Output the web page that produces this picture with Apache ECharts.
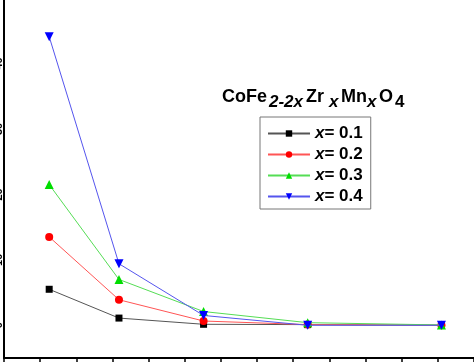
<!DOCTYPE html>
<html><head><meta charset="utf-8">
<script src="https://cdn.jsdelivr.net/npm/echarts@6/dist/echarts.min.js"></script>
<style>html,body{margin:0;padding:0;background:#fff;overflow:hidden}#c{width:474px;height:362px}</style>
</head><body><div id="c"></div>
<script>
// ---- data ----
const xValues = [1.25, 3.18, 5.52, 8.4, 12.1];
const seriesNames = ['0.1', '0.2', '0.3', '0.4'];
const valsX01 = [5.5, 1.1, 0.15, 0.1, 0.0];
const valsX02 = [13.5, 3.9, 0.65, 0.1, 0.0];
const valsX03 = [21.5, 7.0, 2.1, 0.4, 0.05];
const valsX04 = [44.1, 9.4, 1.5, 0.0, 0.0];
const yTickValues = [0, 10, 20, 30, 40];
const yTickLabels = ['0', '10', '20', '30', '40'];

const seriesVals = [valsX01, valsX02, valsX03, valsX04];
const markerColors = ['#000000', '#ff0000', '#00dd00', '#0000ff'];
const lineColors = ['#555555', '#ff5555', '#55dd55', '#5555ee'];
const symbols = ['rect', 'circle', 'triangle', 'triangle'];
const symRot = [0, 0, 0, 180];
const symSizes = [7, 8, 9, 9];

const FONT = '"Liberation Sans", Arial, sans-serif';

const chart = echarts.init(document.getElementById('c'), null, {renderer: 'canvas'});

// title pieces: text, font size, italic, baseline drop, left x
const titlePieces = [
  ['CoFe', 18, false, 0, 222],
  ['2-2x', 17, true, 5, 269],
  ['Zr', 18, false, 0, 306],
  ['x', 17, true, 5, 329],
  ['Mn', 18, false, 0, 341],
  ['x', 17, true, 5, 367],
  ['O', 18, false, 0, 379],
  ['4', 17, false, 5, 395]
];
const graphics = [];
const baseY = 106;
titlePieces.forEach(p => {
  const font = (p[2] ? 'italic ' : '') + 'bold ' + p[1] + 'px ' + FONT;
  graphics.push({
    type: 'text', x: p[4], y: baseY + p[3], z: 100,
    style: {text: p[0], font: font, fill: '#000', verticalAlign: 'bottom', align: 'left'}
  });
});

const series = seriesVals.map((vals, i) => ({
  name: seriesNames[i],
  type: 'line',
  data: vals.map((v, k) => [xValues[k], v]),
  symbol: symbols[i],
  symbolRotate: symRot[i],
  symbolSize: symSizes[i],
  showAllSymbol: true,
  itemStyle: {color: markerColors[i]},
  lineStyle: {color: lineColors[i], width: 1},
  emphasis: {disabled: true},
  z: 2 + i
}));

chart.setOption({
  animation: false,
  backgroundColor: '#fff',
  grid: {left: 4, right: 0, top: 0, bottom: 4, containLabel: false, outerBoundsMode: 'none'},
  xAxis: {
    type: 'value', min: 0, max: 13, interval: 1,
    axisLine: {show: true, onZero: false, lineStyle: {color: '#000', width: 2}},
    axisTick: {show: true, inside: false, length: 4, lineStyle: {color: '#000', width: 1.5}},
    axisLabel: {show: false},
    splitLine: {show: false}
  },
  yAxis: {
    type: 'value', min: -5, max: 49.7,
    axisLine: {show: true, onZero: false, lineStyle: {color: '#000', width: 2}},
    axisTick: {show: false},
    axisLabel: {
      show: true, customValues: yTickValues, rotate: 90, margin: 0,
      fontSize: 11, fontWeight: 'bold', color: '#000', fontFamily: FONT,
      formatter: v => yTickLabels[yTickValues.indexOf(v)] ?? ''
    },
    splitLine: {show: false}
  },
  legend: {
    orient: 'vertical', left: 260, top: 117,
    padding: [8, 8, 4, 7],
    itemWidth: 42, itemHeight: 8, itemGap: 4,
    borderColor: '#777', borderWidth: 1,
    backgroundColor: '#fff',
    data: seriesNames,
    formatter: n => '{i|x}{n|= ' + n + '}',
    textStyle: {
      fontFamily: FONT, fontSize: 17, fontWeight: 'bold', color: '#000', lineHeight: 17,
      rich: {
        i: {fontFamily: FONT, fontSize: 17, fontWeight: 'bold', fontStyle: 'italic', color: '#000'},
        n: {fontFamily: FONT, fontSize: 17, fontWeight: 'bold', color: '#000'}
      }
    }
  },
  graphic: graphics,
  series: series
});
</script></body></html>
